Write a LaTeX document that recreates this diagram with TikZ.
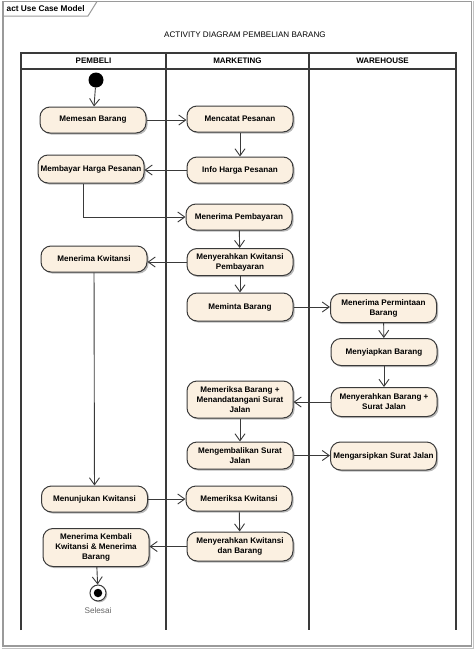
\documentclass[tikz,border=0pt]{standalone}
\usepackage{fontspec}
\setmainfont{Liberation Sans}
\usetikzlibrary{arrows.meta,shadows}
\definecolor{cream}{HTML}{FBF0E1}
\definecolor{edge}{HTML}{3A3A3A}
\definecolor{framec}{HTML}{9A9A9A}
\tikzset{
  act/.style={rectangle, rounded corners=10pt, draw=edge, line width=1pt, fill=cream,
    minimum width=106pt, minimum height=26pt, align=center, inner sep=0.5pt,
    font=\bfseries\fontsize{8.1}{10}\selectfont,
    drop shadow={shadow xshift=1.6pt, shadow yshift=-1.6pt, fill=black!45, opacity=0.6}},
  flow/.style={draw=edge, line width=0.9pt, -{Straight Barb[length=7pt,width=10pt,line width=0.9pt]}},
  lane/.style={draw=edge, line width=1.2pt},
  lanehead/.style={font=\bfseries\fontsize{8}{9}\selectfont},
}
\begin{document}
\begin{tikzpicture}[x=1pt,y=-1pt]
\useasboundingbox (0,0) rectangle (474,651);
% outer frame
\draw[framec, line width=1.4pt] (3,1.5) rectangle (471.5,646);
\draw[framec!60, line width=1pt] (1.5,648) -- (473,648) -- (473,1);
\draw[framec, line width=1pt] (3,16) -- (88,16) -- (97,1.5);
\node[anchor=west, font=\bfseries\fontsize{8.3}{9}\selectfont, inner sep=0pt] (tab) at (6.5,9) {act Use Case Model};
\node[font=\fontsize{8.1}{9}\selectfont] (title) at (245,35) {ACTIVITY DIAGRAM PEMBELIAN BARANG};
% swimlanes
\draw[lane] (21,630) -- (21,53) -- (456,53) -- (456,630);
\draw[lane] (21,69) -- (456,69);
\draw[lane] (166,53) -- (166,630);
\draw[lane] (309,53) -- (309,630);
\node[lanehead] (h1) at (93.5,61) {PEMBELI};
\node[lanehead] (h2) at (237.5,61) {MARKETING};
\node[lanehead] (h3) at (382.5,61) {WAREHOUSE};
% nodes
\node[circle, fill=black, minimum size=15pt, inner sep=0pt] (init) at (96,80) {};
\node[act] (memesan) at (93,120) {Memesan Barang};
\node[act] (mencatat) at (240,119) {Mencatat Pesanan};
\node[act] (info) at (240,170) {Info Harga Pesanan};
\node[act, minimum height=28pt] (membayar) at (91,169) {Membayar Harga Pesanan};
\node[act] (pembayaran) at (239,217) {Menerima Pembayaran};
\node[act] (kwitansi) at (94,259) {Menerima Kwitansi};
\node[act, minimum height=27pt] (serahkw) at (240,262) {Menyerahkan Kwitansi\\Pembayaran};
\node[act, minimum height=28pt] (meminta) at (240,307) {Meminta Barang};
\node[act, minimum height=29pt] (permintaan) at (383.5,308) {Menerima Permintaan\\Barang};
\node[act, minimum height=27pt] (siapkan) at (384,352) {Menyiapkan Barang};
\node[act, minimum height=29pt] (serahbrg) at (384,402) {Menyerahkan Barang +\\Surat Jalan};
\node[act, minimum height=37pt] (periksabrg) at (240,399.5) {Memeriksa Barang +\\Menandatangani Surat\\Jalan};
\node[act, minimum height=27pt] (kembali) at (240,455.5) {Mengembalikan Surat\\Jalan};
\node[act, minimum height=28pt] (arsip) at (383.5,456) {Mengarsipkan Surat Jalan};
\node[act] (tunjuk) at (94.5,499) {Menunjukan Kwitansi};
\node[act, minimum height=25pt] (periksakw) at (239,498.5) {Memeriksa Kwitansi};
\node[act, minimum height=29pt] (serahkwb) at (240,546.5) {Menyerahkan Kwitansi\\dan Barang};
\node[act, minimum height=38pt] (terima) at (96,547.5) {Menerima Kembali\\Kwitansi \& Menerima\\Barang};
\node[circle, draw=edge, line width=1pt, fill=white, minimum size=16pt, inner sep=0pt,
  drop shadow={shadow xshift=1.3pt, shadow yshift=-1.3pt, fill=black!45, opacity=0.6}] (final) at (98,593) {};
\node[circle, fill=black, minimum size=8.5pt, inner sep=0pt] (finalin) at (final) {};
\node[font=\fontsize{8.2}{9}\selectfont, text=black!60] (selesai) at (98,611) {Selesai};
% flows
\draw[flow] (init) -- (memesan);
\draw[flow] (memesan.east) -- (memesan.east -| mencatat.west);
\draw[flow] (mencatat) -- (info);
\draw[flow] (info.west) -- (info.west -| membayar.east);
\draw[flow] ([xshift=-8pt]membayar.south) |- (pembayaran.west);
\draw[flow] (pembayaran) -- (serahkw);
\draw[flow] (serahkw.west) -- (serahkw.west -| kwitansi.east);
\draw[flow] (serahkw) -- (meminta);
\draw[flow] (kwitansi) -- (tunjuk);
\draw[flow] (meminta.east) -- (meminta.east -| permintaan.west);
\draw[flow] (permintaan) -- (siapkan);
\draw[flow] (siapkan) -- (serahbrg);
\draw[flow] (serahbrg.west) -- (serahbrg.west -| periksabrg.east);
\draw[flow] (periksabrg) -- (kembali);
\draw[flow] (kembali.east) -- (kembali.east -| arsip.west);
\draw[flow] (tunjuk.east) -- (tunjuk.east -| periksakw.west);
\draw[flow] (periksakw) -- (serahkwb);
\draw[flow] (serahkwb.west) -- (serahkwb.west -| terima.east);
\draw[flow] (terima) -- (final);
\end{tikzpicture}
\end{document}
